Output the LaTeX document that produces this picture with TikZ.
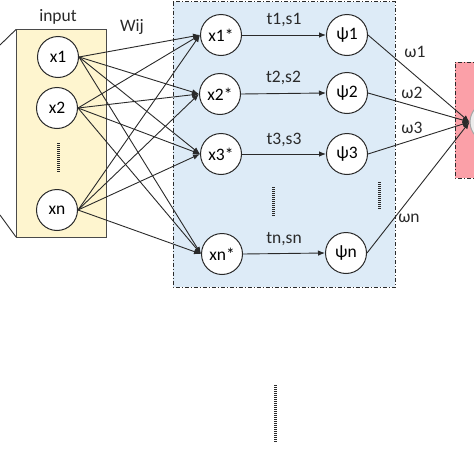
\documentclass[tikz,border=0pt]{standalone}
\usepackage{fontspec}
\setmainfont{Carlito}
\usetikzlibrary{arrows.meta}
\definecolor{ln}{HTML}{2A2A2A}
\definecolor{inyel}{HTML}{FEF5CF}
\definecolor{hidblue}{HTML}{DDEBF7}
\definecolor{outpink}{HTML}{FBA0A8}
\tikzset{
  neuron/.style={circle, draw=ln, line width=1pt, fill=white, minimum size=41pt, inner sep=0pt, font=\fontsize{17.5}{19}\selectfont},
  lbl/.style={font=\fontsize{17.5}{19}\selectfont, text=ln, inner sep=0pt},
  conn/.style={draw=ln, line width=0.9pt, -{Latex[length=7pt,width=5.5pt]}},
  vdots/.style={draw=ln, line width=3pt, dash pattern=on 1pt off 1pt},
  frame/.style={draw=ln, line width=0.9pt, dash pattern=on 4pt off 2pt on 1pt off 2pt}
}
\begin{document}
\begin{tikzpicture}[x=1pt,y=-1pt]
\useasboundingbox (0,0) rectangle (474,474);
% boxes
\fill[hidblue] (173,1.5) rectangle (395,287);
\draw[frame] (173,1.5) rectangle (395,287);
\fill[outpink] (455,62) rectangle (480,178);
\draw[frame] (480,62) -- (455,62) -- (455,178) -- (480,178);
\draw[draw=ln!85, line width=1pt, fill=inyel] (16,29.5) rectangle (106,237);
\coordinate (bl1) at (0,45);
\coordinate (bl2) at (16,29.5);
\coordinate (bl3) at (0,215);
\coordinate (bl4) at (16,237);
\draw[ln, line width=0.9pt] (bl1) -- (bl2);
\draw[ln, line width=0.9pt] (bl3) -- (bl4);
% labels
\node[lbl] (linput) at (58,17) {input};
\node[lbl] (lwij) at (132,27) {Wij};
% input nodes
\node[neuron] (x1) at (58,57) {x1};
\node[neuron] (x2) at (57,108) {x2};
\node[neuron] (xn) at (57,210) {xn};
% hidden
\node[neuron] (h1) at (221,35) {x1*};
\node[neuron] (h2) at (220,94) {x2*};
\node[neuron] (h3) at (221,154) {x3*};
\node[neuron] (hn) at (222,254) {xn*};
\node[neuron] (p1) at (347,35) {ψ1};
\node[neuron] (p2) at (347,93) {ψ2};
\node[neuron] (p3) at (347,154) {ψ3};
\node[neuron] (pn) at (346,253) {ψn};
% output
\node[circle, draw=gray!70, line width=1pt, fill=gray!15, minimum size=40pt, inner sep=0pt] (out) at (490,122) {};
% input to hidden
\foreach \i in {x1,x2,xn}{
  \foreach \j in {h1,h2,h3,hn}{
    \draw[conn] (\i.east) -- (\j.west);
  }
}
% hidden to psi
\draw[conn] (h1.east) -- node[lbl, above=8pt] (ts1) {t1,s1} (p1.west);
\draw[conn] (h2.east) -- node[lbl, above=8pt] (ts2) {t2,s2} (p2.west);
\draw[conn] (h3.east) -- node[lbl, above=7pt] (ts3) {t3,s3} (p3.west);
\draw[conn] (hn.east) -- node[lbl, above=7pt] (tsn) {tn,sn} (pn.west);
% psi to output
\foreach \p in {p1,p2,p3,pn}{
  \draw[conn] (\p.east) -- (out.west);
}
\node[lbl] (w1) at (415,52) {ω1};
\node[lbl] (w2) at (412,93) {ω2};
\node[lbl] (w3) at (412,128) {ω3};
\node[lbl] (wn) at (409,218) {ωn};
% vertical dots
\coordinate (d1a) at (58,143); \coordinate (d1b) at (58,173);
\coordinate (d2a) at (273,187); \coordinate (d2b) at (273,217);
\coordinate (d3a) at (379,182); \coordinate (d3b) at (379,210);
\coordinate (d4a) at (275,385); \coordinate (d4b) at (275,443);
\draw[vdots] (d1a) -- (d1b);
\draw[vdots] (d2a) -- (d2b);
\draw[vdots] (d3a) -- (d3b);
\draw[vdots] (d4a) -- (d4b);
\end{tikzpicture}
\end{document}
